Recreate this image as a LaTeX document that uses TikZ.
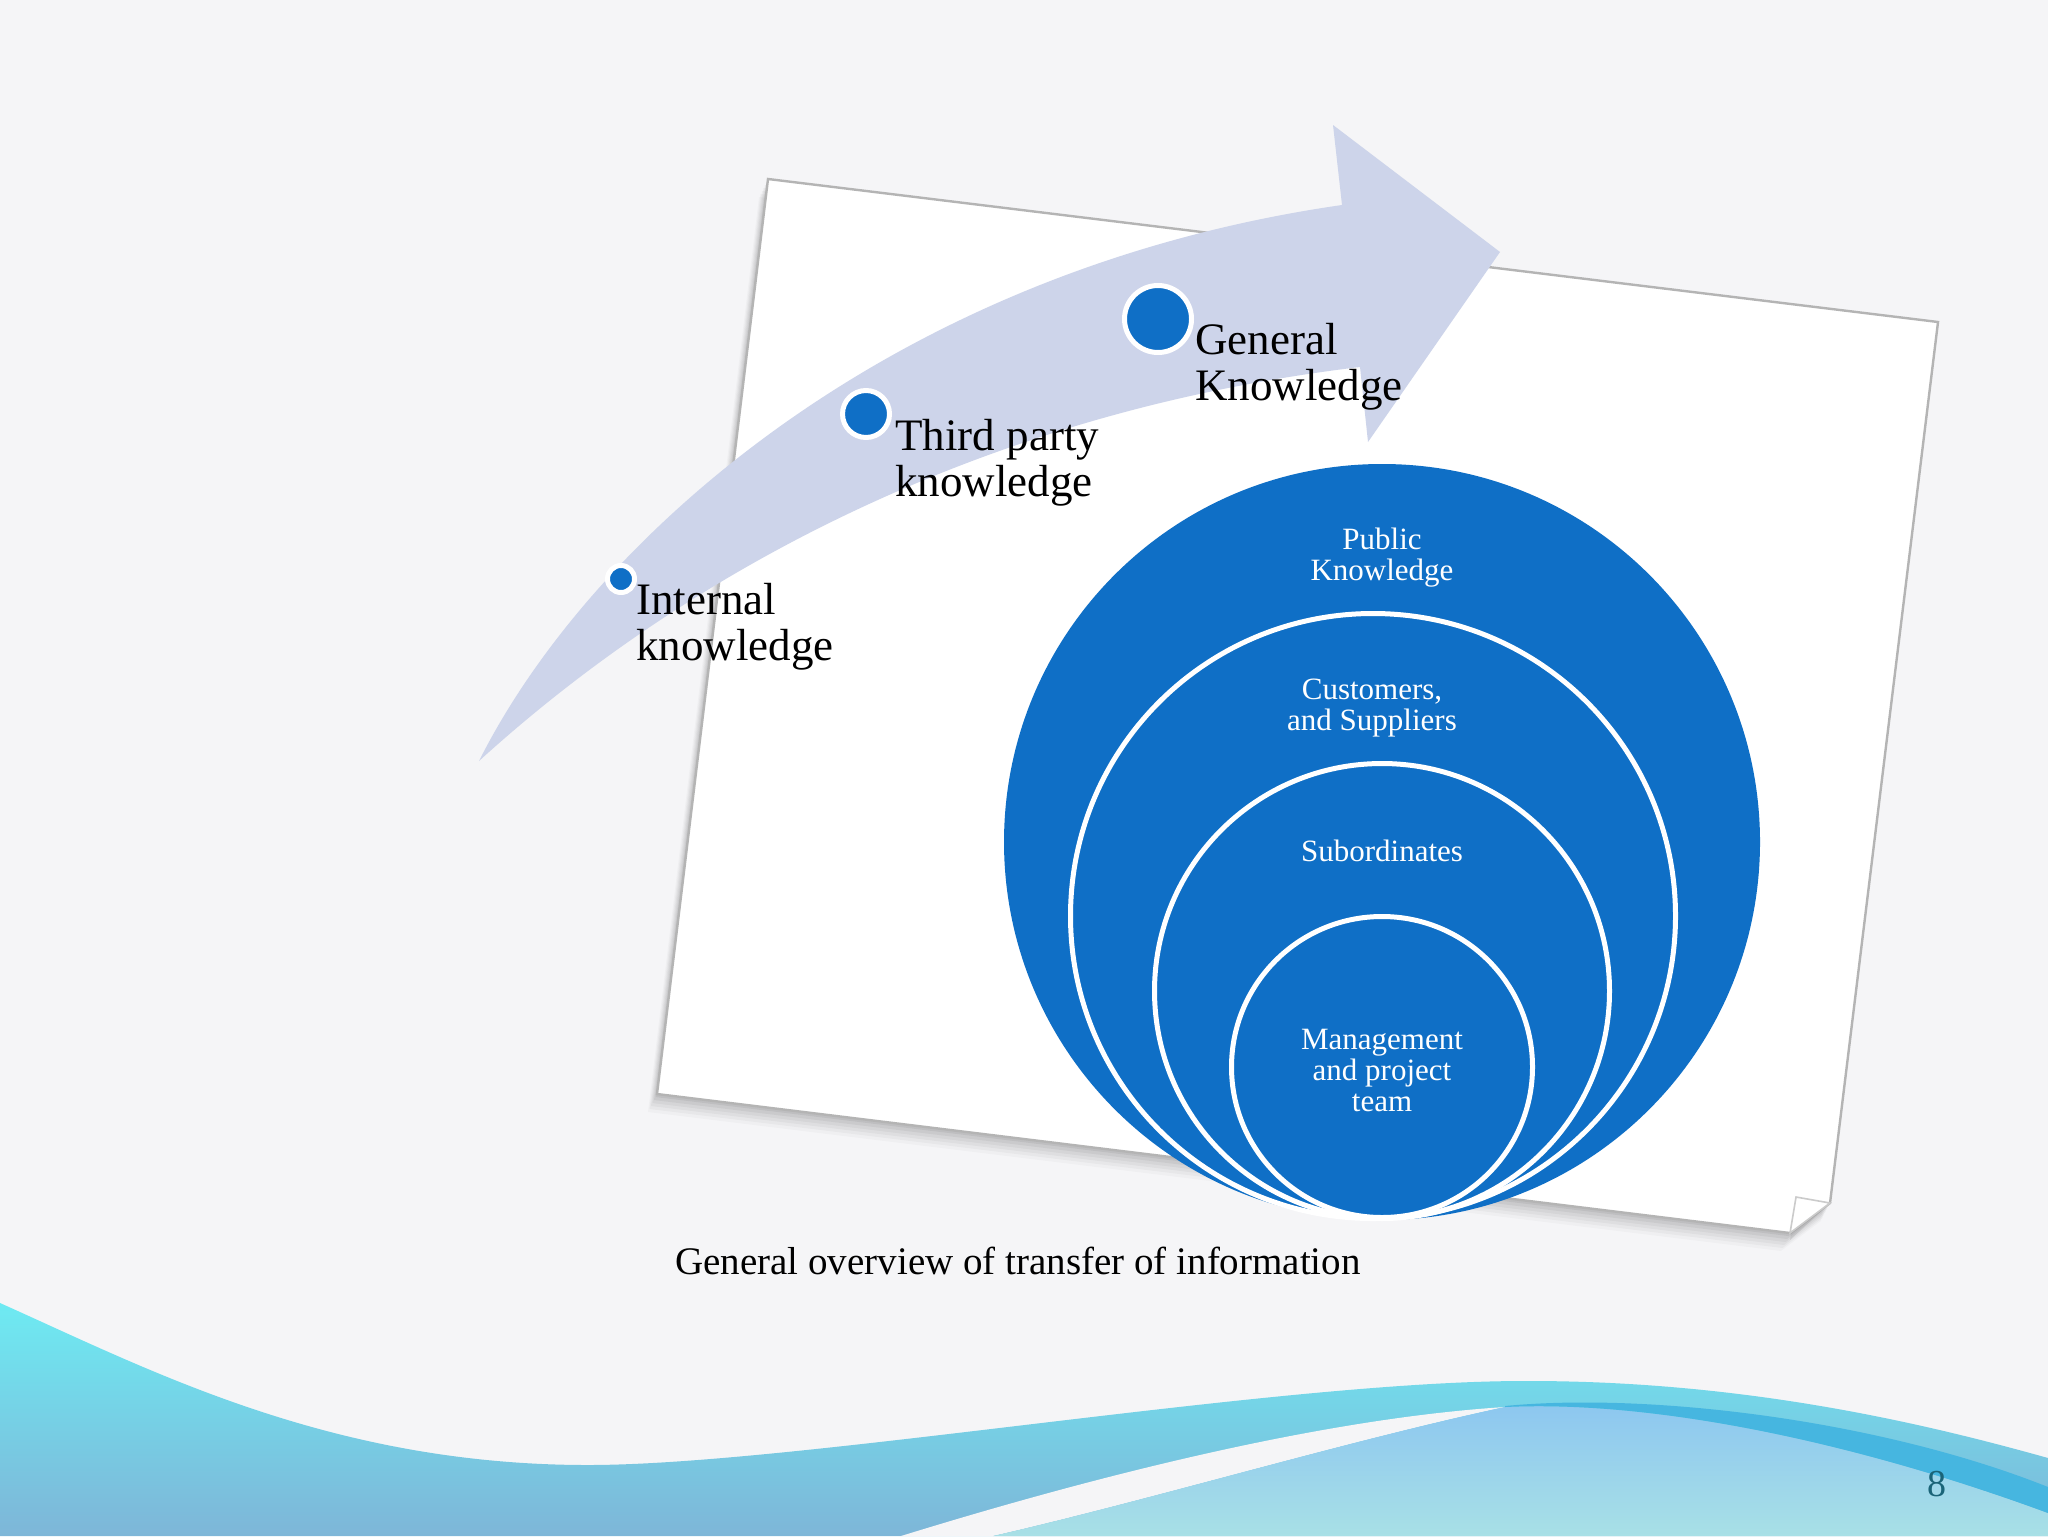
\documentclass[tikz,border=0pt]{standalone}
\usepackage{fontspec}
\setmainfont{Liberation Serif}
\definecolor{bgcol}{HTML}{F5F5F7}
\definecolor{cblue}{HTML}{0F6FC6}
\definecolor{arrowcol}{HTML}{CDD4EA}
\definecolor{tealtop}{HTML}{6EEAF2}
\definecolor{tealbot}{HTML}{7EB6D8}
\definecolor{lbtop}{HTML}{8CC6F0}
\definecolor{lbbot}{HTML}{A8E0E6}
\definecolor{stripecol}{HTML}{46B6E0}
\definecolor{papergray}{HTML}{B4B4B4}
\definecolor{pagenum}{HTML}{1A6478}
\begin{document}
\begin{tikzpicture}[x=0.5pt,y=-0.5pt,
  lbl/.style={inner sep=0pt, font=\fontsize{22.5}{23}\selectfont, align=left, anchor=base west, text=black},
  clbl/.style={inner sep=0pt, font=\fontsize{15.5}{15.5}\selectfont, align=center, anchor=base, text=white},
  dot/.style={circle, fill=cblue, draw=white, line width=2.5pt, inner sep=0pt},
  ring/.style={fill=cblue, draw=white, line width=2.5pt}]
\useasboundingbox (0,0) rectangle (2048,1536);
\fill[bgcol] (0,0) rectangle (2048,1536);
% paper shadow
\foreach \s/\o in {18/0.025, 15/0.03, 12/0.035, 9/0.04, 6/0.05, 3/0.06} {
  \fill[black, opacity=\o, shift={(-0.5*\s,\s)}] (768,179) -- (1938,322) -- (1830,1203) -- (1790,1233) -- (657,1094) -- cycle;
}
% paper
\filldraw[fill=white, draw=papergray, line width=1.2pt] (768,179) -- (1938,322) -- (1830,1203) -- (1790,1233) -- (657,1094) -- cycle;
% folded corner
\fill[black, opacity=0.08] (1830,1203) -- (1796,1199) -- (1790,1240) -- cycle;
\filldraw[fill=white, draw=papergray!70, line width=0.8pt] (1830,1203) -- (1796,1197) -- (1790,1233) -- cycle;
% arrow
\fill[arrowcol] (479,761) .. controls (590,540) and (890,270) .. (1342,205) -- (1333,125) -- (1500,252) -- (1368,442) -- (1360,367) .. controls (1000,410) and (700,560) .. (479,761) -- cycle;
% dots
\node[dot, minimum size=13.5pt] (d1) at (621,579) {};
\node[dot, minimum size=23.5pt] (d2) at (866,414) {};
\node[dot, minimum size=33.5pt] (d3) at (1158,319) {};
% arrow labels (anchor at baseline of last line)
\node[lbl] (t1) at (636,660) {Internal\\knowledge};
\node[lbl] (t2) at (895,496) {Third party\\knowledge};
\node[lbl] (t3) at (1195,400) {General\\Knowledge};
% nested circles
\fill[cblue] (1382,842) circle (189pt);
\path[ring] (1373,916) circle (151.25pt);
\path[ring] (1382,991) circle (113.75pt);
\path[ring] (1382,1067) circle (75.25pt);
\node[clbl] (pub) at (1382,580) {Public\\Knowledge};
\node[clbl] (cus) at (1372,730) {Customers,\\and Suppliers};
\node[clbl] (sub) at (1382,861) {Subordinates};
\node[clbl] (man) at (1382,1111) {Management\\and project\\team};
% caption
\node[font=\fontsize{19.5}{20}\selectfont, anchor=base, inner sep=0pt] (cap) at (1018,1274) {General overview of transfer of information};
% waves
\shade[top color=tealtop, bottom color=tealbot] (0,1303) .. controls (150,1370) and (330,1465) .. (588,1465) .. controls (800,1465) and (1280,1380) .. (1529,1381) .. controls (1750,1381) and (1930,1425) .. (2048,1458) -- (2048,1536) -- (0,1536) -- cycle;
\fill[bgcol] (901,1536) .. controls (1050,1490) and (1300,1420) .. (1505,1407) .. controls (1350,1440) and (1150,1500) .. (993,1536) -- cycle;
\shade[top color=lbtop, bottom color=lbbot] (993,1536) .. controls (1150,1500) and (1350,1440) .. (1505,1407) .. controls (1650,1400) and (1850,1440) .. (2048,1513) -- (2048,1536) -- cycle;
\fill[stripecol] (1505,1406) .. controls (1650,1392) and (1880,1420) .. (2048,1487) -- (2048,1513) .. controls (1850,1440) and (1650,1400) .. (1505,1407) -- cycle;
% page number
\node[font=\fontsize{19}{19}\selectfont, text=pagenum, anchor=base, inner sep=0pt] (pg) at (1937,1496) {8};
\end{tikzpicture}
\end{document}
